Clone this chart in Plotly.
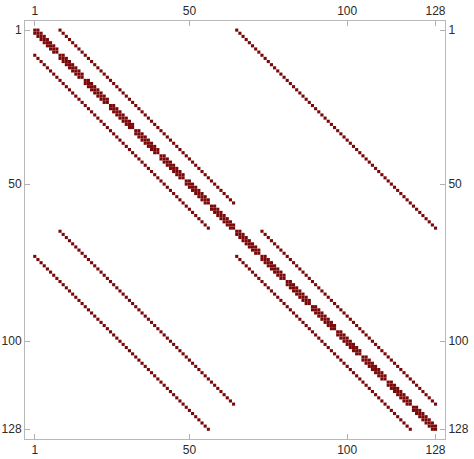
import plotly.graph_objects as go

# Matrix size and tick labels
n = 128
tick_vals = [1, 50, 100, 128]
tick_text = ["1", "50", "100", "128"]

# Nonzero diagonal segments: (start_row, start_col, length)
diag_rows = [1, 1, 9, 1, 65, 73, 65, 73]
diag_cols = [1, 9, 1, 65, 9, 1, 73, 65]
diag_lens = [128, 56, 56, 64, 56, 56, 56, 56]

# Near-diagonal (+1 / -1) couplings inside each grid line of length 8
grid_line = 8
near_offsets = [1, -1]

rows, cols = [], []
for r0, c0, L in zip(diag_rows, diag_cols, diag_lens):
    for k in range(L):
        rows.append(r0 + k)
        cols.append(c0 + k)
for off in near_offsets:
    for i in range(1, n + 1):
        j = i + off
        if 1 <= j <= n:
            lo = min(i, j)
            if lo % grid_line != 0:
                rows.append(i)
                cols.append(j)

fig = go.Figure()
fig.add_trace(go.Scatter(
    x=cols, y=rows, mode="markers",
    marker=dict(symbol="square", size=3.1, color="#7a0808", line=dict(width=0)),
    hoverinfo="skip", showlegend=False))
# invisible trace to anchor mirrored axes
fig.add_trace(go.Scatter(x=[1, 128], y=[1, 128], mode="markers",
                         marker=dict(opacity=0), xaxis="x2", yaxis="y2",
                         hoverinfo="skip", showlegend=False))

xr = [-2.1, 131.0]
yr = [131.1, -1.9]
axis_common = dict(
    tickvals=tick_vals, ticktext=tick_text, ticks="inside", ticklen=5,
    tickcolor="#b0b0b0", tickwidth=1, showgrid=False, zeroline=False,
    showline=True, linecolor="#b8b8b8", linewidth=1, automargin=False,
    tickfont=dict(family="Liberation Sans, Arial", size=12, color="#2a2a2a"),
)
fig.update_layout(
    width=474, height=459,
    margin=dict(l=25, r=29, t=21, b=20),
    paper_bgcolor="white", plot_bgcolor="white",
    xaxis=dict(range=xr, side="bottom", **axis_common),
    yaxis=dict(range=yr, side="left", **axis_common),
    xaxis2=dict(range=xr, side="top", overlaying="x", anchor="y", **axis_common),
    yaxis2=dict(range=yr, side="right", overlaying="y", anchor="x", **axis_common),
)
fig.write_html("out.html", config={"displayModeBar": False},
               post_script="document.body.style.margin='0px';document.body.style.overflow='hidden';")
